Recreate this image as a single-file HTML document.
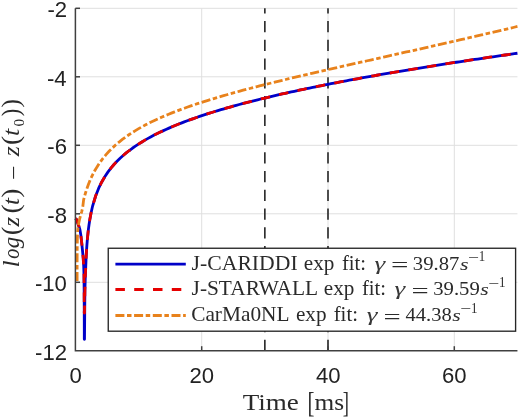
<!DOCTYPE html>
<html><head><meta charset="utf-8"><style>
html,body{margin:0;padding:0;background:#fff;}
body{width:520px;height:418px;overflow:hidden;}
svg{display:block;}
</style></head><body>
<svg width="520" height="418" viewBox="0 0 520 418">
<rect width="520" height="418" fill="#fff"/>
<line x1="201.70" y1="8.3" x2="201.70" y2="350.80" stroke="#dfdfdf" stroke-width="1"/>
<line x1="328.00" y1="8.3" x2="328.00" y2="350.80" stroke="#dfdfdf" stroke-width="1"/>
<line x1="454.30" y1="8.3" x2="454.30" y2="350.80" stroke="#dfdfdf" stroke-width="1"/>
<line x1="75.4" y1="8.30" x2="517.45" y2="8.30" stroke="#dfdfdf" stroke-width="1"/>
<line x1="75.4" y1="76.80" x2="517.45" y2="76.80" stroke="#dfdfdf" stroke-width="1"/>
<line x1="75.4" y1="145.30" x2="517.45" y2="145.30" stroke="#dfdfdf" stroke-width="1"/>
<line x1="75.4" y1="213.80" x2="517.45" y2="213.80" stroke="#dfdfdf" stroke-width="1"/>
<line x1="75.4" y1="282.30" x2="517.45" y2="282.30" stroke="#dfdfdf" stroke-width="1"/>
<line x1="264.85" y1="8.3" x2="264.85" y2="350.80" stroke="#262626" stroke-width="1.6" stroke-dasharray="11.2 7.55" stroke-dashoffset="6.05"/>
<line x1="328.00" y1="8.3" x2="328.00" y2="350.80" stroke="#262626" stroke-width="1.6" stroke-dasharray="11.2 7.55" stroke-dashoffset="6.05"/>
<path d="M75.60 218.30L76.60 219.60L77.60 222.60L78.80 226.00L79.90 229.40L80.90 235.50L81.80 243.70L82.60 251.50L83.20 258.00L83.70 266.00L84.00 275.00L84.15 290.00L84.25 310.00L84.30 330.00L84.30 339.30L84.50 339.30L84.90 290.00L85.30 277.00L85.95 262.00L85.95 261.99L85.95 261.98L85.95 261.98L85.95 261.97L85.95 261.96L85.95 261.95L85.95 261.94L85.95 261.92L85.95 261.90L85.95 261.88L85.96 261.84L85.96 261.80L85.96 261.75L85.96 261.68L85.97 261.60L85.97 261.49L85.98 261.36L85.98 261.19L85.99 260.98L86.01 260.71L86.02 260.38L86.04 259.96L86.06 259.44L86.09 258.79L86.13 257.99L86.18 257.00L86.24 255.80L86.32 254.34L86.42 252.58L86.54 250.49L86.70 248.03L86.90 245.16L87.16 241.88L87.48 238.17L87.89 234.02L88.40 229.45L89.06 224.48L89.89 219.15L90.94 213.47L92.26 207.49L92.58 206.22L95.64 195.99L98.69 188.23L101.75 181.95L104.81 176.68L107.86 172.12L110.92 168.10L113.98 164.50L117.03 161.23L120.09 158.24L123.15 155.48L126.20 152.92L129.26 150.52L132.32 148.26L135.37 146.13L138.43 144.12L141.49 142.20L144.54 140.37L147.60 138.63L150.66 136.95L153.71 135.34L156.77 133.80L159.83 132.30L162.88 130.86L165.94 129.47L169.00 128.12L172.05 126.80L175.11 125.53L178.17 124.29L181.22 123.09L184.28 121.91L187.33 120.77L190.39 119.65L193.45 118.56L196.50 117.49L199.56 116.45L202.62 115.42L205.67 114.42L208.73 113.44L211.79 112.47L214.84 111.53L217.90 110.60L220.96 109.68L224.01 108.79L227.07 107.90L230.13 107.03L233.18 106.18L236.24 105.34L239.30 104.51L242.35 103.69L245.41 102.88L248.47 102.09L251.52 101.31L254.58 100.53L257.64 99.77L260.69 99.01L263.75 98.27L266.81 97.53L269.86 96.81L272.92 96.09L275.98 95.38L279.03 94.67L282.09 93.98L285.15 93.29L288.20 92.61L291.26 91.94L294.32 91.27L297.37 90.61L300.43 89.95L303.49 89.31L306.54 88.66L309.60 88.03L312.66 87.40L315.71 86.77L318.77 86.15L321.83 85.54L324.88 84.93L327.94 84.32L331.00 83.73L334.05 83.13L337.11 82.54L340.17 81.96L343.22 81.37L346.28 80.80L349.34 80.23L352.39 79.66L355.45 79.09L358.51 78.53L361.56 77.98L364.62 77.42L367.68 76.87L370.73 76.33L373.79 75.79L376.85 75.25L379.90 74.71L382.96 74.18L386.02 73.65L389.07 73.12L392.13 72.60L395.19 72.08L398.24 71.57L401.30 71.05L404.36 70.54L407.41 70.03L410.47 69.53L413.52 69.03L416.58 68.53L419.64 68.03L422.69 67.53L425.75 67.04L428.81 66.55L431.86 66.07L434.92 65.58L437.98 65.10L441.03 64.62L444.09 64.14L447.15 63.67L450.20 63.19L453.26 62.72L456.32 62.25L459.37 61.78L462.43 61.32L465.49 60.86L468.54 60.39L471.60 59.94L474.66 59.48L477.71 59.02L480.77 58.57L483.83 58.12L486.88 57.67L489.94 57.22L493.00 56.77L496.05 56.33L499.11 55.89L502.17 55.45L505.22 55.01L508.28 54.57L511.34 54.13L514.39 53.70L517.45 53.26" fill="none" stroke="#0000c8" stroke-width="2.8" stroke-linejoin="round"/>
<path d="M75.60 218.30L76.60 219.60L77.60 222.60L78.80 226.00L79.90 229.40L80.90 235.50L81.80 243.70L82.60 251.50L83.20 258.00L83.70 266.00L84.00 275.00L84.15 290.00L84.25 310.00L84.26 313.00L84.50 313.00L84.90 290.00L85.30 277.00L85.95 262.00L85.95 261.99L85.95 261.98L85.95 261.98L85.95 261.97L85.95 261.96L85.95 261.95L85.95 261.94L85.95 261.92L85.95 261.90L85.95 261.88L85.96 261.84L85.96 261.80L85.96 261.75L85.96 261.68L85.97 261.60L85.97 261.49L85.98 261.36L85.98 261.19L85.99 260.98L86.01 260.71L86.02 260.38L86.04 259.96L86.06 259.44L86.09 258.79L86.13 257.99L86.18 257.00L86.24 255.80L86.32 254.34L86.42 252.58L86.54 250.49L86.70 248.03L86.90 245.16L87.16 241.88L87.48 238.17L87.89 234.02L88.40 229.45L89.06 224.48L89.89 219.15L90.94 213.47L92.26 207.49L92.58 206.22L95.64 195.99L98.69 188.23L101.75 181.95L104.81 176.68L107.86 172.12L110.92 168.10L113.98 164.50L117.03 161.23L120.09 158.24L123.15 155.48L126.20 152.92L129.26 150.52L132.32 148.26L135.37 146.13L138.43 144.12L141.49 142.20L144.54 140.37L147.60 138.63L150.66 136.95L153.71 135.34L156.77 133.80L159.83 132.30L162.88 130.86L165.94 129.47L169.00 128.12L172.05 126.80L175.11 125.53L178.17 124.29L181.22 123.09L184.28 121.91L187.33 120.77L190.39 119.65L193.45 118.56L196.50 117.49L199.56 116.45L202.62 115.42L205.67 114.42L208.73 113.44L211.79 112.47L214.84 111.53L217.90 110.60L220.96 109.68L224.01 108.79L227.07 107.90L230.13 107.03L233.18 106.18L236.24 105.34L239.30 104.51L242.35 103.69L245.41 102.88L248.47 102.09L251.52 101.31L254.58 100.53L257.64 99.77L260.69 99.01L263.75 98.27L266.81 97.53L269.86 96.81L272.92 96.09L275.98 95.38L279.03 94.67L282.09 93.98L285.15 93.29L288.20 92.61L291.26 91.94L294.32 91.27L297.37 90.61L300.43 89.95L303.49 89.31L306.54 88.66L309.60 88.03L312.66 87.40L315.71 86.77L318.77 86.15L321.83 85.54L324.88 84.93L327.94 84.32L331.00 83.73L334.05 83.13L337.11 82.54L340.17 81.96L343.22 81.37L346.28 80.80L349.34 80.23L352.39 79.66L355.45 79.09L358.51 78.53L361.56 77.98L364.62 77.42L367.68 76.87L370.73 76.33L373.79 75.79L376.85 75.25L379.90 74.71L382.96 74.18L386.02 73.65L389.07 73.12L392.13 72.60L395.19 72.08L398.24 71.57L401.30 71.05L404.36 70.54L407.41 70.03L410.47 69.53L413.52 69.03L416.58 68.53L419.64 68.03L422.69 67.53L425.75 67.04L428.81 66.55L431.86 66.07L434.92 65.58L437.98 65.10L441.03 64.62L444.09 64.14L447.15 63.67L450.20 63.19L453.26 62.72L456.32 62.25L459.37 61.78L462.43 61.32L465.49 60.86L468.54 60.39L471.60 59.94L474.66 59.48L477.71 59.02L480.77 58.57L483.83 58.12L486.88 57.67L489.94 57.22L493.00 56.77L496.05 56.33L499.11 55.89L502.17 55.45L505.22 55.01L508.28 54.57L511.34 54.13L514.39 53.70L517.45 53.26" fill="none" stroke="#e60000" stroke-width="2.8" stroke-dasharray="9.5 9.3" stroke-linejoin="round"/>
<path d="M77.10 281.00L77.10 262.00L77.20 248.00L77.35 239.00L77.70 231.00L78.40 225.00L79.50 219.50L80.60 215.50L81.70 211.60L82.70 207.60L83.61 199.95L84.24 197.48L84.87 195.17L85.50 192.99L86.14 190.94L86.77 189.00L87.40 187.17L88.03 185.42L88.66 183.75L89.29 182.16L89.92 180.63L90.56 179.17L91.19 177.76L91.82 176.41L92.45 175.10L93.08 173.84L93.71 172.63L94.34 171.45L94.98 170.31L95.61 169.21L96.24 168.14L99.50 163.06L102.77 158.60L106.04 154.64L109.30 151.06L112.57 147.80L115.83 144.80L119.10 142.03L122.36 139.45L125.63 137.04L128.89 134.77L132.16 132.63L135.42 130.60L138.69 128.66L141.95 126.82L145.22 125.06L148.48 123.38L151.75 121.76L155.01 120.20L158.28 118.69L161.54 117.24L164.81 115.83L168.07 114.47L171.34 113.15L174.60 111.86L177.87 110.61L181.13 109.39L184.40 108.20L187.67 107.04L190.93 105.90L194.20 104.79L197.46 103.70L200.73 102.63L203.99 101.59L207.26 100.56L210.52 99.55L213.79 98.55L217.05 97.57L220.32 96.61L223.58 95.66L226.85 94.73L230.11 93.80L233.38 92.89L236.64 91.99L239.91 91.10L243.17 90.22L246.44 89.35L249.70 88.49L252.97 87.64L256.23 86.80L259.50 85.96L262.76 85.13L266.03 84.31L269.29 83.49L272.56 82.68L275.83 81.88L279.09 81.08L282.36 80.29L285.62 79.50L288.89 78.71L292.15 77.93L295.42 77.16L298.68 76.39L301.95 75.62L305.21 74.86L308.48 74.09L311.74 73.34L315.01 72.58L318.27 71.83L321.54 71.08L324.80 70.33L328.07 69.58L331.33 68.84L334.60 68.10L337.86 67.36L341.13 66.62L344.39 65.88L347.66 65.14L350.92 64.41L354.19 63.68L357.46 62.94L360.72 62.21L363.99 61.48L367.25 60.75L370.52 60.02L373.78 59.29L377.05 58.56L380.31 57.83L383.58 57.10L386.84 56.37L390.11 55.64L393.37 54.91L396.64 54.18L399.90 53.45L403.17 52.72L406.43 51.99L409.70 51.26L412.96 50.53L416.23 49.79L419.49 49.06L422.76 48.33L426.02 47.59L429.29 46.86L432.55 46.12L435.82 45.38L439.09 44.64L442.35 43.90L445.62 43.16L448.88 42.42L452.15 41.68L455.41 40.93L458.68 40.19L461.94 39.44L465.21 38.69L468.47 37.94L471.74 37.19L475.00 36.44L478.27 35.68L481.53 34.92L484.80 34.17L488.06 33.41L491.33 32.64L494.59 31.88L497.86 31.12L501.12 30.35L504.39 29.58L507.65 28.81L510.92 28.04L514.18 27.26L517.45 26.48" fill="none" stroke="#e8821c" stroke-width="2.8" stroke-dasharray="9.0 2.6 4.5 2.6" stroke-linejoin="round"/>
<path d="M75.4 8.3V350.80H517.45" fill="none" stroke="#404040" stroke-width="1.5"/>
<line x1="75.4" y1="8.30" x2="80.0" y2="8.30" stroke="#404040" stroke-width="1.5"/>
<line x1="75.4" y1="76.80" x2="80.0" y2="76.80" stroke="#404040" stroke-width="1.5"/>
<line x1="75.4" y1="145.30" x2="80.0" y2="145.30" stroke="#404040" stroke-width="1.5"/>
<line x1="75.4" y1="213.80" x2="80.0" y2="213.80" stroke="#404040" stroke-width="1.5"/>
<line x1="75.4" y1="282.30" x2="80.0" y2="282.30" stroke="#404040" stroke-width="1.5"/>
<line x1="201.70" y1="350.80" x2="201.70" y2="346.20" stroke="#404040" stroke-width="1.5"/>
<line x1="328.00" y1="350.80" x2="328.00" y2="346.20" stroke="#404040" stroke-width="1.5"/>
<line x1="454.30" y1="350.80" x2="454.30" y2="346.20" stroke="#404040" stroke-width="1.5"/>
<rect x="108.25" y="248.25" width="407.35" height="82.95" fill="#fff" stroke="#262626" stroke-width="1.35"/>
<line x1="115.4" y1="264.2" x2="185.8" y2="264.2" stroke="#0000c8" stroke-width="2.8"/>
<line x1="115.4" y1="289.5" x2="185.8" y2="289.5" stroke="#e60000" stroke-width="2.8" stroke-dasharray="9.5 9.3"/>
<line x1="115.4" y1="315.5" x2="185.8" y2="315.5" stroke="#e8821c" stroke-width="2.8" stroke-dasharray="9.0 2.6 4.5 2.6"/>
<text transform="translate(47.38 17.10) scale(0.970 1.000)" font-family="'Liberation Sans', Arial, sans-serif" font-size="22.8" fill="#222">-2</text>
<text transform="translate(46.90 85.60) scale(0.970 1.000)" font-family="'Liberation Sans', Arial, sans-serif" font-size="22.8" fill="#222">-4</text>
<text transform="translate(47.29 154.10) scale(0.970 1.000)" font-family="'Liberation Sans', Arial, sans-serif" font-size="22.8" fill="#222">-6</text>
<text transform="translate(47.29 222.60) scale(0.970 1.000)" font-family="'Liberation Sans', Arial, sans-serif" font-size="22.8" fill="#222">-8</text>
<text transform="translate(34.89 291.10) scale(0.970 1.000)" font-family="'Liberation Sans', Arial, sans-serif" font-size="22.8" fill="#222">-10</text>
<text transform="translate(35.08 359.60) scale(0.970 1.000)" font-family="'Liberation Sans', Arial, sans-serif" font-size="22.8" fill="#222">-12</text>
<text transform="translate(69.39 382.80) scale(0.970 1.000)" font-family="'Liberation Sans', Arial, sans-serif" font-size="22.8" fill="#222">0</text>
<text transform="translate(189.39 382.80) scale(0.970 1.000)" font-family="'Liberation Sans', Arial, sans-serif" font-size="22.8" fill="#222">20</text>
<text transform="translate(315.98 382.80) scale(0.970 1.000)" font-family="'Liberation Sans', Arial, sans-serif" font-size="22.8" fill="#222">40</text>
<text transform="translate(441.99 382.80) scale(0.970 1.000)" font-family="'Liberation Sans', Arial, sans-serif" font-size="22.8" fill="#222">60</text>
<text transform="translate(242.74 410.20) scale(1.152 1.000)" font-family="'Liberation Serif', 'Times New Roman', serif" font-size="23.5" fill="#2a2a2a">Time</text>
<text transform="translate(307.49 412.11) scale(0.887 1.215)" font-family="'Liberation Serif', 'Times New Roman', serif" font-size="23.5" fill="#2a2a2a">[</text>
<text transform="translate(314.47 410.20) scale(1.077 1.000)" font-family="'Liberation Serif', 'Times New Roman', serif" font-size="23.5" fill="#2a2a2a">ms</text>
<text transform="translate(342.87 412.11) scale(0.792 1.215)" font-family="'Liberation Serif', 'Times New Roman', serif" font-size="23.5" fill="#2a2a2a">]</text>
<text transform="translate(191.57 269.50) scale(1.086 1.000)" font-family="'Liberation Serif', 'Times New Roman', serif" font-size="20.0" fill="#2a2a2a">J-CARIDDI</text>
<text transform="translate(303.76 269.50) scale(1.059 1.000)" font-family="'Liberation Serif', 'Times New Roman', serif" font-size="20.0" fill="#2a2a2a">exp</text>
<text transform="translate(341.88 269.50) scale(1.034 1.000)" font-family="'Liberation Serif', 'Times New Roman', serif" font-size="20.0" fill="#2a2a2a">fit:</text>
<text transform="translate(374.38 269.50) scale(1.392 1.000)" font-family="'Liberation Serif', 'Times New Roman', serif" font-size="19.5" font-style="italic" fill="#383838">γ</text>
<text transform="translate(391.11 272.30) scale(1.547 1.000)" font-family="'Liberation Serif', 'Times New Roman', serif" font-size="20.0" fill="#2a2a2a">=</text>
<text transform="translate(412.83 269.50) scale(1.077 1.000)" font-family="'Liberation Serif', 'Times New Roman', serif" font-size="19.2" fill="#2a2a2a">39.87</text>
<text transform="translate(459.95 269.50) scale(1.246 1.000)" font-family="'Liberation Serif', 'Times New Roman', serif" font-size="17.5" font-style="italic" fill="#303030">s</text>
<text transform="translate(468.37 262.10) scale(1.388 1.000)" font-family="'Liberation Serif', 'Times New Roman', serif" font-size="14.0" fill="#2a2a2a">−</text>
<text transform="translate(478.80 261.30) scale(0.920 1.000)" font-family="'Liberation Serif', 'Times New Roman', serif" font-size="14.0" fill="#2a2a2a">1</text>
<text transform="translate(191.57 295.20) scale(1.068 1.000)" font-family="'Liberation Serif', 'Times New Roman', serif" font-size="20.0" fill="#2a2a2a">J-STARWALL</text>
<text transform="translate(323.86 295.20) scale(1.059 1.000)" font-family="'Liberation Serif', 'Times New Roman', serif" font-size="20.0" fill="#2a2a2a">exp</text>
<text transform="translate(361.98 295.20) scale(1.034 1.000)" font-family="'Liberation Serif', 'Times New Roman', serif" font-size="20.0" fill="#2a2a2a">fit:</text>
<text transform="translate(394.58 295.20) scale(1.392 1.000)" font-family="'Liberation Serif', 'Times New Roman', serif" font-size="19.5" font-style="italic" fill="#383838">γ</text>
<text transform="translate(411.53 298.00) scale(1.526 1.000)" font-family="'Liberation Serif', 'Times New Roman', serif" font-size="20.0" fill="#2a2a2a">=</text>
<text transform="translate(433.23 295.20) scale(1.077 1.000)" font-family="'Liberation Serif', 'Times New Roman', serif" font-size="19.2" fill="#2a2a2a">39.59</text>
<text transform="translate(480.15 295.20) scale(1.246 1.000)" font-family="'Liberation Serif', 'Times New Roman', serif" font-size="17.5" font-style="italic" fill="#303030">s</text>
<text transform="translate(488.57 287.80) scale(1.388 1.000)" font-family="'Liberation Serif', 'Times New Roman', serif" font-size="14.0" fill="#2a2a2a">−</text>
<text transform="translate(499.00 287.00) scale(0.920 1.000)" font-family="'Liberation Serif', 'Times New Roman', serif" font-size="14.0" fill="#2a2a2a">1</text>
<text transform="translate(191.15 320.70) scale(1.067 1.000)" font-family="'Liberation Serif', 'Times New Roman', serif" font-size="20.0" fill="#2a2a2a">CarMa0NL</text>
<text transform="translate(295.96 320.70) scale(1.059 1.000)" font-family="'Liberation Serif', 'Times New Roman', serif" font-size="20.0" fill="#2a2a2a">exp</text>
<text transform="translate(333.67 320.70) scale(1.044 1.000)" font-family="'Liberation Serif', 'Times New Roman', serif" font-size="20.0" fill="#2a2a2a">fit:</text>
<text transform="translate(366.68 320.70) scale(1.392 1.000)" font-family="'Liberation Serif', 'Times New Roman', serif" font-size="19.5" font-style="italic" fill="#383838">γ</text>
<text transform="translate(383.43 323.50) scale(1.526 1.000)" font-family="'Liberation Serif', 'Times New Roman', serif" font-size="20.0" fill="#2a2a2a">=</text>
<text transform="translate(405.58 320.70) scale(1.069 1.000)" font-family="'Liberation Serif', 'Times New Roman', serif" font-size="19.2" fill="#2a2a2a">44.38</text>
<text transform="translate(452.15 320.70) scale(1.246 1.000)" font-family="'Liberation Serif', 'Times New Roman', serif" font-size="17.5" font-style="italic" fill="#303030">s</text>
<text transform="translate(460.57 313.30) scale(1.388 1.000)" font-family="'Liberation Serif', 'Times New Roman', serif" font-size="14.0" fill="#2a2a2a">−</text>
<text transform="translate(471.00 312.50) scale(0.920 1.000)" font-family="'Liberation Serif', 'Times New Roman', serif" font-size="14.0" fill="#2a2a2a">1</text>
<g transform="translate(19.0 268.1) rotate(-90)" font-family="'Liberation Serif', 'Times New Roman', serif" fill="#2a2a2a"><text transform="translate(0.53 0) scale(1.150 1)" font-size="22.5" font-style="italic">l</text><text transform="translate(9.36 0) scale(0.900 1)" font-size="22.5" font-style="italic">o</text><text transform="translate(19.80 0) scale(1.009 1)" font-size="22.5" font-style="italic">g</text><text transform="translate(33.07 0) scale(1.031 1)" font-size="24.5">(</text><text transform="translate(41.53 0) scale(1.091 1)" font-size="22.5" font-style="italic">z</text><text transform="translate(54.48 0) scale(1.125 1)" font-size="24.5">(</text><text transform="translate(63.01 0) scale(1.102 1)" font-size="22.5" font-style="italic">t</text><text transform="translate(70.31 0) scale(1.125 1)" font-size="24.5">)</text><text transform="translate(88.20 1.9) scale(1.150 1)" font-size="22.5">−</text><text transform="translate(111.74 0) scale(1.148 1)" font-size="22.5" font-style="italic">z</text><text transform="translate(123.19 0) scale(1.109 1)" font-size="24.5">(</text><text transform="translate(132.07 0) scale(1.150 1)" font-size="22.5" font-style="italic">t</text><text transform="translate(141.71 4.8) scale(0.985 1)" font-size="15.5">0</text><text transform="translate(151.75 0) scale(0.922 1)" font-size="24.5">)</text><text transform="translate(160.58 0) scale(1.031 1)" font-size="24.5">)</text></g>
</svg>
</body></html>
